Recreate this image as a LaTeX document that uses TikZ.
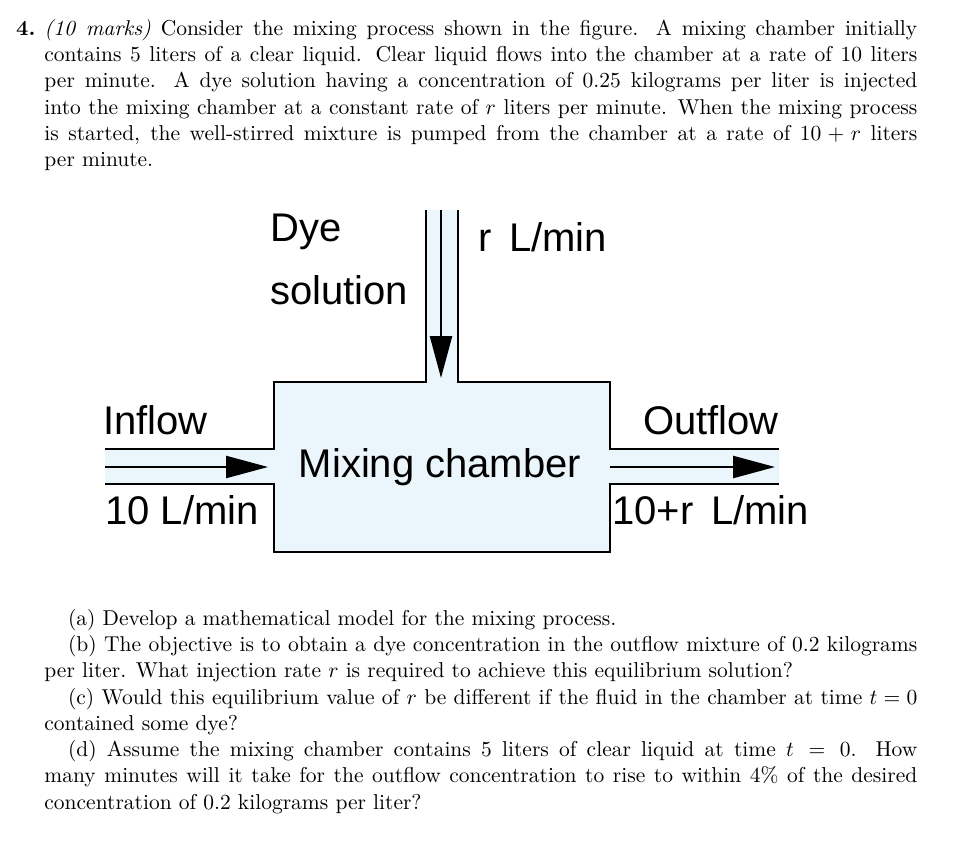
\documentclass[tikz,border=0pt]{standalone}
\usepackage{fontspec}
\usepackage{amsmath}
\newfontfamily\arialish{Liberation Sans}
\usetikzlibrary{arrows.meta}
\definecolor{tank}{HTML}{EAF6FB}
\begin{document}
\begin{tikzpicture}[x=1pt,y=-1pt,
  wall/.style={line width=2.4pt,line join=miter},
  flow/.style={line width=2.4pt,-{Triangle[length=42pt,width=22pt]}},
  lab/.style={font=\arialish\fontsize{40}{44}\selectfont,inner sep=0pt},
  para/.style={inner sep=0pt,scale=2.15,transform shape,text width=406pt,align=justify,font=\fontsize{10}{12.19}\selectfont}]
\useasboundingbox[fill=white] (0,0) rectangle (962,846);
\node[para,anchor=north west] (q) at (44,19) {\noindent\llap{\textbf{4.}\hspace{4.2pt}}\textit{(10 marks)} Consider the mixing process shown in the figure. A mixing chamber initially\linebreak contains 5 liters of a clear liquid. Clear liquid flows into the chamber at a rate of 10 liters\linebreak per minute. A dye solution having a concentration of 0.25 kilograms per liter is injected\linebreak into the mixing chamber at a constant rate of $r$ liters per minute. When the mixing process\linebreak is started, the well-stirred mixture is pumped from the chamber at a rate of $10+r$ liters\linebreak per minute.};
\node[para,anchor=north west] (parts) at (44,609) {\setlength{\parindent}{11pt}\indent(a) Develop a mathematical model for the mixing process.\par
(b) The objective is to obtain a dye concentration in the outflow mixture of 0.2 kilograms\linebreak per liter. What injection rate $r$ is required to achieve this equilibrium solution?\par
(c) Would this equilibrium value of $r$ be different if the fluid in the chamber at time $t=0$\linebreak contained some dye?\par
(d) Assume the mixing chamber contains 5 liters of clear liquid at time $t\,=\,0$. How\linebreak many minutes will it take for the outflow concentration to rise to within 4\% of the desired\linebreak concentration of 0.2 kilograms per liter?};
% fill
\fill[tank] (105,449) -- (274,449) -- (274,382) -- (426,382) -- (426,210) -- (458,210) -- (458,382) -- (610,382) -- (610,449) -- (779,449) -- (779,484) -- (610,484) -- (610,552) -- (274,552) -- (274,484) -- (105,484) -- cycle;
\draw[wall] (105,449) -- (274,449) -- (274,382) -- (426,382) -- (426,210);
\draw[wall] (458,210) -- (458,382) -- (610,382) -- (610,449) -- (779,449);
\draw[wall] (779,484) -- (610,484) -- (610,552) -- (274,552) -- (274,484) -- (105,484);
\coordinate (inA) at (105,467); \coordinate (inB) at (268,467);
\coordinate (dA) at (441,210); \coordinate (dB) at (441,378);
\coordinate (oA) at (610,467); \coordinate (oB) at (775,467);
\draw[flow] (inA) -- (inB);
\draw[flow] (dA) -- (dB);
\draw[flow] (oA) -- (oB);
\node[lab,anchor=west] (dye) at (270,232) {Dye};
\node[lab,anchor=west] (sol) at (270,290) {solution};
\node[lab,anchor=west] (rl) at (478,237) {r\, L/min};
\node[lab,anchor=west] (inf) at (103,420) {Inflow};
\node[lab,anchor=west] (inr) at (105,510) {10 L/min};
\node[lab] (mc) at (440,467) {Mixing chamber};
\node[lab,anchor=west] (outf) at (643,420) {Outflow};
\node[lab,anchor=west] (outr) at (612,510) {10+r\, L/min};
\end{tikzpicture}
\end{document}
